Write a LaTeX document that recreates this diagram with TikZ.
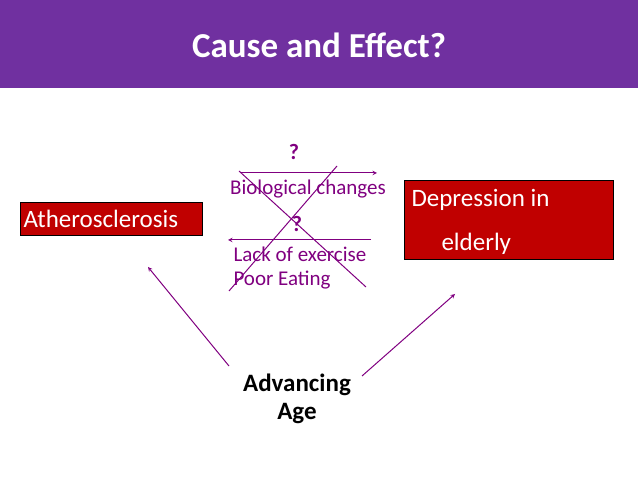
\documentclass[tikz,border=0pt]{standalone}
\usepackage{fontspec}
\setmainfont{Carlito}
\usetikzlibrary{arrows}
\definecolor{titlepurple}{RGB}{112,48,160}
\definecolor{boxred}{RGB}{192,0,0}
\definecolor{linepurple}{RGB}{128,0,128}
\begin{document}
\begin{tikzpicture}[x=1pt,y=-1pt,
  redbox/.style={draw=black, fill=boxred, text=white, anchor=north west},
  note/.style={text=linepurple, font=\fontsize{21}{23}\selectfont},
  ask/.style={text=linepurple, font=\fontsize{22}{24}\selectfont\bfseries},
  link/.style={linepurple, line width=1pt}]
\useasboundingbox (0,0) rectangle (638,478);
\fill[titlepurple] (0,0) rectangle (638,88);
\node[text=white, font=\fontsize{35}{40}\selectfont\bfseries] (title) at (319,45) {Cause and Effect?};
\node[redbox, minimum width=182pt, minimum height=33pt] (athero) at (20,202) {};
\node[text=white, anchor=west, font=\fontsize{25}{27}\selectfont] at (20,219) {Atherosclerosis};
\node[redbox, minimum width=209pt, minimum height=79pt] (depr) at (404,180) {};
\node[text=white, anchor=west, font=\fontsize{25}{27}\selectfont] at (408,200) {Depression in};
\node[text=white, anchor=west, font=\fontsize{25}{27}\selectfont] at (438,244) {elderly};
\node[ask] (q1) at (294,152) {?};
\node[ask] (q2) at (297,224) {?};
\node[note] (bio) at (308,189) {Biological changes};
\node[note, anchor=west] (lack) at (230,254) {Lack of exercise};
\node[note, anchor=west] (poor) at (230,280) {Poor Eating};
\node[font=\fontsize{25}{27}\selectfont\bfseries] (adv) at (297,385) {Advancing};
\node[font=\fontsize{25}{27}\selectfont\bfseries] (age) at (297,414) {Age};
\coordinate (ra) at (240,173); \coordinate (rb) at (377,173);
\coordinate (la) at (371,240); \coordinate (lb) at (228,240);
\draw[->, >=stealth, link] (ra) -- (rb);
\draw[->, >=stealth, link] (la) -- (lb);
\draw[link] (239,171) -- (366,287);
\draw[link] (337,166) -- (229,291);
\coordinate (la1) at (229,366); \coordinate (la2) at (148,267);
\coordinate (ra1) at (362,376); \coordinate (ra2) at (455,294);
\draw[->, >=stealth, link] (la1) -- (la2);
\draw[->, >=stealth, link] (ra1) -- (ra2);
\end{tikzpicture}
\end{document}
